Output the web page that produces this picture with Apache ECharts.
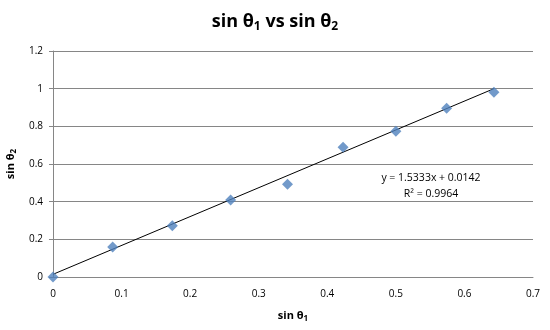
<!DOCTYPE html>
<html><head><meta charset="utf-8">
<script src="https://cdn.jsdelivr.net/npm/echarts@6/dist/echarts.min.js"></script>
<style>html,body{margin:0;padding:0;background:#fff}#c{width:550px;height:330px}</style>
</head><body><div id="c"></div>
<script>
const sinTheta1 = [0, 0.087, 0.174, 0.259, 0.342, 0.423, 0.5, 0.574, 0.643];
const sinTheta2 = [0, 0.159, 0.272, 0.409, 0.493, 0.689, 0.774, 0.896, 0.981];
const trendX = [0, 0.643];
const trendY = [0.0142, 0.9999];
const xTicks = [0, 0.1, 0.2, 0.3, 0.4, 0.5, 0.6, 0.7];
const yTicks = [0, 0.2, 0.4, 0.6, 0.8, 1, 1.2];
const eqText = 'y = 1.5333x + 0.0142';
const r2Text = 'R² = 0.9964';

const F = '"Open Sans", "Liberation Sans", sans-serif';
const chart = echarts.init(document.getElementById('c'));
chart.setOption({
  animation: false,
  title: {
    text: '{a|sin θ}{s|1}{a| vs sin θ}{s|2}',
    left: 'center', top: 6,
    textStyle: {
      rich: {
        a: {fontFamily: F, fontWeight: 'bold', fontSize: 18, color: '#000'},
        s: {fontFamily: F, fontWeight: 'bold', fontSize: 12, color: '#000', verticalAlign: 'bottom', padding: [10, 0, 0, 0]}
      }
    }
  },
  grid: {left: 53, right: 17, top: 51, bottom: 53, outerBoundsMode: 'none'},
  xAxis: {
    type: 'value', min: 0, max: 0.7, interval: 0.1,
    name: '{a|sin θ}{s|1}', nameLocation: 'middle', nameGap: 32,
    nameTextStyle: {rich: {
      a: {fontFamily: F, fontWeight: 'bold', fontSize: 11, color: '#000'},
      s: {fontFamily: F, fontWeight: 'bold', fontSize: 8, color: '#000', padding: [6, 0, 0, 0]}
    }},
    axisLine: {show: true, lineStyle: {color: '#868686'}},
    axisTick: {show: false},
    splitLine: {show: false},
    axisLabel: {fontFamily: F, fontSize: 10, color: '#000', margin: 12,
      formatter: v => xTicks.includes(Math.round(v*10)/10) ? String(Math.round(v*10)/10) : ''}
  },
  yAxis: {
    type: 'value', min: 0, max: 1.2, interval: 0.2,
    name: '{a|sin θ}{s|2}', nameLocation: 'middle', nameGap: 29, nameRotate: 90,
    nameTextStyle: {rich: {
      a: {fontFamily: F, fontWeight: 'bold', fontSize: 11, color: '#000'},
      s: {fontFamily: F, fontWeight: 'bold', fontSize: 8, color: '#000', padding: [6, 0, 0, 0]}
    }},
    axisLine: {show: true, lineStyle: {color: '#868686'}},
    axisTick: {show: true, length: 4, lineStyle: {color: '#868686'}},
    splitLine: {show: true, lineStyle: {color: '#868686', width: 1}},
    axisLabel: {fontFamily: F, fontSize: 10, color: '#000', margin: 10,
      formatter: v => { const r = Math.round(v*10)/10; return yTicks.includes(r) ? String(r) : ''; }}
  },
  series: [
    {
      type: 'line', data: trendX.map((x, i) => [x, trendY[i]]),
      symbol: 'none', lineStyle: {color: '#000', width: 1}, silent: true, z: 3
    },
    {
      type: 'scatter', data: sinTheta1.map((x, i) => [x, sinTheta2[i]]),
      symbol: 'diamond', symbolSize: 11,
      itemStyle: {color: '#4F81BD'}, z: 4
    }
  ],
  graphic: [
    {type: 'text', x: 431, y: 178, style: {text: eqText, fontFamily: F, fontSize: 10.5, fill: '#000', align: 'center', verticalAlign: 'middle'}},
    {type: 'text', x: 431, y: 194, style: {text: r2Text, fontFamily: F, fontSize: 10.5, fill: '#000', align: 'center', verticalAlign: 'middle'}}
  ]
});
</script></body></html>
